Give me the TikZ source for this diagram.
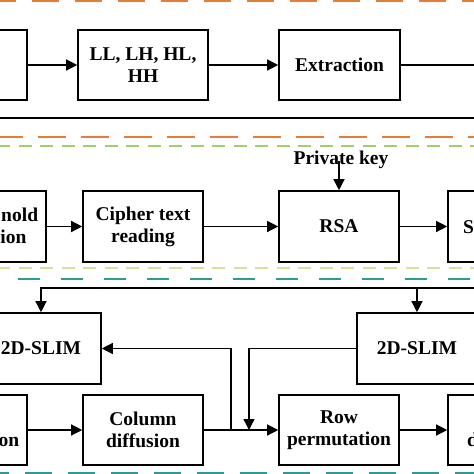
\documentclass[tikz,border=0pt]{standalone}
\usepackage{fontspec}
\setmainfont{Liberation Serif}
\usetikzlibrary{arrows.meta}
\definecolor{orng}{HTML}{E57C38}
\definecolor{lgreen}{HTML}{9DCF6A}
\definecolor{ygreen}{HTML}{D4E29A}
\definecolor{tealc}{HTML}{2E9A94}
\newcommand{\figfont}{\bfseries\fontsize{19.5}{22}\selectfont}
\begin{document}
\begin{tikzpicture}[x=1pt,y=-1pt,
  box/.style={draw, line width=1.6pt, minimum width=120pt, minimum height=71pt,
              align=center, inner sep=2pt, font=\figfont},
  conn/.style={line width=1.3pt},
  arr/.style={conn, -{Triangle[length=11pt,width=11pt]}},
  frag/.style={inner sep=0pt, font=\figfont},
  sepdash/.style={line width=2pt},
]
\useasboundingbox (0,0) rectangle (474,474);
\clip (0,0) rectangle (474,474);

% separators
\draw[orng, line width=3pt, dash pattern=on 27pt off 16pt] (-11,0.5) -- (480,0.5);
\draw[orng, sepdash, dash pattern=on 28pt off 15pt] (-5,137) -- (480,137);
\draw[lgreen, sepdash, dash pattern=on 13pt off 8.5pt] (-3,146) -- (480,146);
\draw[ygreen, sepdash, dash pattern=on 13pt off 8.5pt] (-3,268) -- (480,268);
\draw[tealc, sepdash, dash pattern=on 22pt off 21pt] (-25,279) -- (480,279);
\draw[tealc, line width=3.5pt, dash pattern=on 27pt off 16pt] (-18,473.5) -- (480,473.5);

% row 1
\node[box, minimum height=70pt] (wav) at (-33,65) {};
\node[box, minimum width=130pt, minimum height=70pt] (ll) at (143,65) {LL, LH, HL,\\HH};
\node[box, minimum width=121pt, minimum height=70pt] (ext) at (339.5,65) {Extraction};
\coordinate (extout) at (480,65);
\draw[arr] (wav) -- (ll);
\draw[arr] (ll) -- (ext);
\draw[conn] (ext) -- (extout);
\coordinate (solL) at (-5,118);
\coordinate (solR) at (480,118);
\draw[line width=2pt] (solL) -- (solR);

% row 2
\node[box, minimum width=150pt] (arn) at (-29,226.5) {};
\node[frag, anchor=base east] (arn1) at (38.3,221) {nold};
\node[frag, anchor=base east] (arn2) at (26.7,243.5) {ion};
\node[box] (cip) at (143,226.5) {Cipher text\\reading};
\node[box] (rsa) at (339,226.5) {RSA};
\node[box] (sx) at (508,226.5) {};
\node[frag, anchor=base west] (sx1) at (463,233.5) {S};
\node[frag, anchor=base] (pk) at (341,164) {Private key};
\draw[arr] (pk.base -| rsa.north) ++(0,-3) -- (rsa.north);
\draw[arr] (arn) -- (cip);
\draw[arr] (cip) -- (rsa);
\draw[arr] (rsa) -- (sx);

% row 3
\node[box] (slimL) at (41,348.5) {2D-SLIM};
\node[box] (slimR) at (417,348.5) {2D-SLIM};
\coordinate (fbR) at (480,288);
\draw[arr] (fbR) -| (slimL.north);
\draw[arr] (slimR.north |- fbR) -- (slimR.north);

\node[box, minimum height=70pt] (cp) at (-33,430) {};
\node[frag, anchor=base east] (cp1) at (19.3,446.7) {on};
\node[box, minimum height=70pt] (cd) at (143,430) {Column\\diffusion};
\node[box, minimum height=70pt] (rp) at (339,430) {Row\\permutation};
\node[box, minimum height=70pt] (rdf) at (508,430) {};
\node[frag, anchor=base west] (rdf1) at (467,446.7) {d};
\draw[arr] (cp) -- (cd);
\draw[arr] (cd) -- (rp);
\draw[arr] (rp) -- (rdf);
\coordinate (br1) at (231,430);
\coordinate (br2) at (249,430);
\draw[arr] (br1) |- (slimL.east);
\draw[arr] (slimR.west) -| (br2);
\end{tikzpicture}
\end{document}
